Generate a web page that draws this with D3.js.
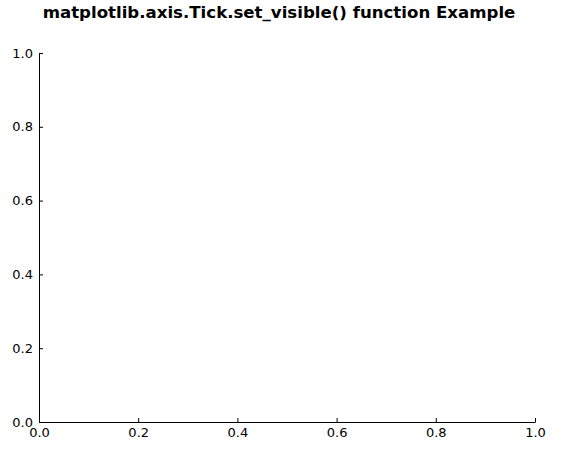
<!DOCTYPE html>
<html><head><meta charset="utf-8">
<script src="https://cdn.jsdelivr.net/npm/d3@7"></script>
<style>body{margin:0;background:#fff}svg{display:block}</style>
</head><body><svg id="c" width="562" height="451"></svg>
<script>
const title = "matplotlib.axis.Tick.set_visible() function Example";
const xTicks = [0, 0.2, 0.4, 0.6, 0.8, 1.0];
const yTicks = [0, 0.2, 0.4, 0.6, 0.8, 1.0];
const xDomain = [0, 1];
const yDomain = [0, 1];

const svg = d3.select("#c");
const m = {l: 39, r: 535, t: 53, b: 422};
const x = d3.scaleLinear().domain(xDomain).range([m.l, m.r]);
const y = d3.scaleLinear().domain(yDomain).range([m.b, m.t]);
const font = "DejaVu Sans";

const xa = svg.append("g").attr("transform", `translate(0,${m.b})`)
  .call(d3.axisBottom(x).tickValues(xTicks).tickFormat(d3.format(".1f")).tickSizeInner(-4).tickSizeOuter(0).tickPadding(10));
const ya = svg.append("g").attr("transform", `translate(${m.l},0)`)
  .call(d3.axisLeft(y).tickValues(yTicks).tickFormat(d3.format(".1f")).tickSizeInner(-4).tickSizeOuter(0).tickPadding(10));
[xa, ya].forEach(a => {
  a.select(".domain").attr("stroke", "#000").attr("stroke-width", 1);
  a.selectAll(".tick line").attr("stroke", "#000");
  a.selectAll("text").attr("font-family", font).attr("font-size", 13).attr("fill", "#000");
});
ya.selectAll("text").attr("x", -6);
xa.selectAll("text").attr("y", 6);

svg.append("text").attr("x", 279).attr("y", 18).attr("text-anchor", "middle")
  .attr("font-family", font).attr("font-weight", "bold").attr("font-size", 16.6).text(title);
</script></body></html>
